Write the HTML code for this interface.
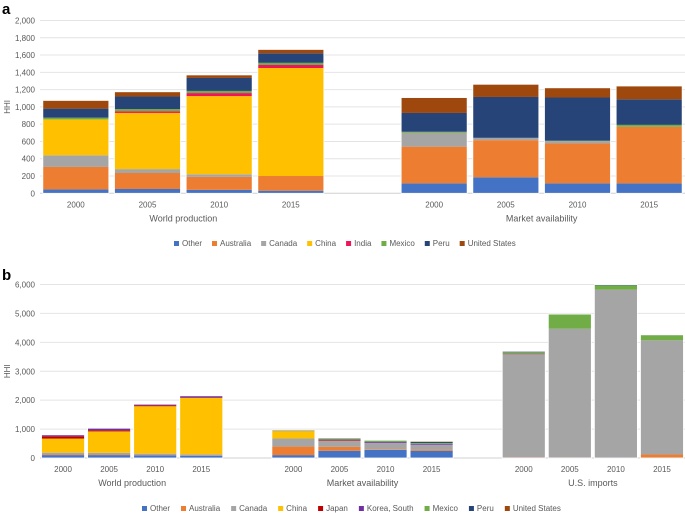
<!DOCTYPE html>
<html><head><meta charset="utf-8"><style>
html,body{margin:0;padding:0;background:#fff;width:685px;height:513px;overflow:hidden}
svg{display:block;font-family:"Liberation Sans",sans-serif}
</style></head><body>
<svg id="svg" width="685" height="513">
<text x="2" y="14" font-size="15" font-weight="bold" fill="#000">a</text>
<text x="2" y="280" font-size="15" font-weight="bold" fill="#000">b</text>
</svg>
<script>
const colorsMap={"Other":"#4472c4","Australia":"#ed7d31","Canada":"#a5a5a5","China":"#ffc000","India":"#f0145a","Japan":"#c00000","Korea, South":"#7030a0","Mexico":"#70ad47","Peru":"#264478","United States":"#9e480e"};
// Panel a
const aSeries=["Other","Australia","Canada","China","India","Mexico","Peru","United States"];
const aYears=["2000","2005","2010","2015"];
const aGroups=["World production","Market availability"];
const aTicks=[0,200,400,600,800,1000,1200,1400,1600,1800,2000];
const aWorld=[[45,260,135,415,0,20,105,95],[50,185,45,650,20,25,145,55],[40,150,30,905,35,25,150,35],[30,170,0,1250,35,25,110,45]];
const aMarket=[[115,425,160,0,0,12,218,178],[185,430,27,0,0,0,473,147],[115,462,27,0,0,5,500,112],[115,655,0,0,0,22,296,154]];
// Panel b
const bSeries=["Other","Australia","Canada","China","Japan","Korea, South","Mexico","Peru","United States"];
const bGroups=["World production","Market availability","U.S. imports"];
const bTicks=[0,1000,2000,3000,4000,5000,6000];
const bWorld=[[100,20,65,486,80,50,0,0,0],[100,20,60,740,40,70,0,0,0],[90,10,50,1640,30,40,0,0,0],[80,10,40,1950,10,60,0,0,0]];
const bMarket=[[100,295,280,255,0,10,20,0,10],[250,135,220,0,20,20,40,0,10],[280,20,220,0,0,30,40,20,0],[250,40,170,0,0,30,30,40,20]];
const bImports=[[20,10,3560,0,10,10,50,30,0],[10,10,4450,0,0,0,506,0,0],[10,0,5810,0,0,0,150,25,0],[10,110,3950,0,0,0,180,10,0]];

const svg=document.getElementById('svg');const NS='http://www.w3.org/2000/svg';
function mk(t,a,p){const e=document.createElementNS(NS,t);for(const k in a)e.setAttribute(k,a[k]);(p||svg).appendChild(e);return e;}

function panel(id,cfg){
  const g=mk('g',{});
  
  
  const x0=40,x1=685,y0=cfg.y0,yTop=cfg.yTop,max=cfg.ticks[cfg.ticks.length-1];
  const ys=v=>y0-(v/max)*(y0-yTop);
  const slot=(x1-x0)/cfg.nSlots;
  cfg.ticks.forEach(t=>{
    const l=mk('line',{x1:x0,x2:x1,y1:ys(t),y2:ys(t),stroke:t===0?'#d0d0d0':'#e4e4e4','stroke-width':1},g);
    
    
    const tx=mk('text',{x:x0-5,y:ys(t)+3,'font-size':8,fill:'#595959','text-anchor':'end'},g);
    tx.textContent=t.toLocaleString('en-US');
    
    
  });
  const yt=mk('text',{x:0,y:0,'font-size':8,fill:'#595959','text-anchor':'middle',transform:`translate(10,${(y0+yTop)/2}) rotate(-90)`},g);
  yt.textContent='HHI';
  
  
  cfg.groups.forEach((grp,gi)=>{
    const start=gi*5;
    grp.data.forEach((row,bi)=>{
      const cx=x0+slot*(start+bi+0.5);
      let acc=0;
      row.forEach((v,si)=>{
        if(v<=0)return;
        const r=mk('rect',{x:cx-cfg.bw/2,y:ys(acc+v),width:cfg.bw,height:ys(acc)-ys(acc+v),fill:colorsMap[cfg.series[si]]},g);
        
        
        acc+=v;
      });
      const ol=mk('rect',{x:cx-cfg.bw/2,y:ys(acc),width:cfg.bw,height:ys(0)-ys(acc),fill:'none',stroke:'#fff','stroke-width':0.8},g);
      
      
      const yl=mk('text',{x:cx,y:y0+14,'font-size':8,fill:'#595959','text-anchor':'middle'},g);
      yl.textContent=aYears[bi];
      
      
    });
    const gl=mk('text',{x:x0+slot*(start+2),y:y0+28,'font-size':9,fill:'#595959','text-anchor':'middle'},g);
    gl.textContent=grp.name;
    
    
  });
  let lx=cfg.legX;
  cfg.series.forEach(s=>{
    const sq=mk('rect',{x:lx,y:cfg.legY-5,width:5,height:5,fill:colorsMap[s]},g);
    
    
    const t=mk('text',{x:lx+8,y:cfg.legY,'font-size':8,fill:'#595959'},g);
    t.textContent=s;
    
    
    lx+=8+t.getComputedTextLength()+cfg.legGap;
  });
}
panel('panel-a',{y0:193.3,yTop:20.5,ticks:aTicks,nSlots:9,bw:66,series:aSeries,groups:[{name:aGroups[0],data:aWorld},{name:aGroups[1],data:aMarket}],legX:174,legY:246,legGap:10});
panel('panel-b',{y0:458,yTop:284.5,ticks:bTicks,nSlots:14,bw:43,series:bSeries,groups:[{name:bGroups[0],data:bWorld},{name:bGroups[1],data:bMarket},{name:bGroups[2],data:bImports}],legX:142,legY:511,legGap:11});
</script>
</body></html>
